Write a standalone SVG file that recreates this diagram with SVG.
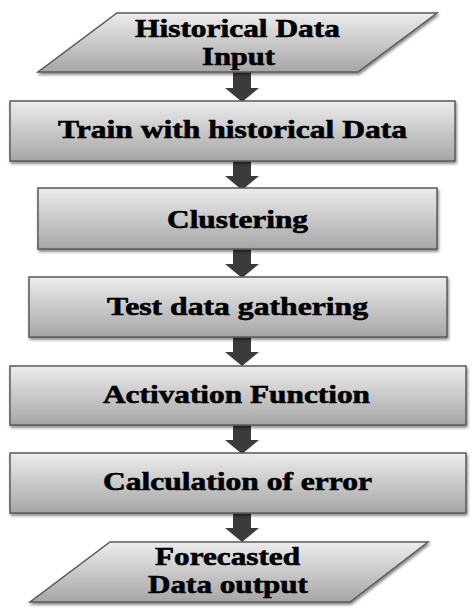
<svg xmlns="http://www.w3.org/2000/svg" width="474" height="612" viewBox="0 0 474 612">
<defs>
<linearGradient id="g" x1="0" y1="0" x2="0" y2="1">
<stop offset="0" stop-color="#ececec"/>
<stop offset="1" stop-color="#a6a6a6"/>
</linearGradient>
<filter id="sh" x="-5%" y="-10%" width="110%" height="130%">
<feGaussianBlur in="SourceAlpha" stdDeviation="1.5"/>
<feOffset dx="1" dy="2" result="b"/>
<feComponentTransfer><feFuncA type="linear" slope="0.5"/></feComponentTransfer>
<feMerge><feMergeNode/><feMergeNode in="SourceGraphic"/></feMerge>
</filter>
<path id="arr" d="M-9 0 H9 V16 H17 L0 30 L-17 16 H-9 Z"/>
</defs>
<style>
.n{fill:url(#g);stroke:#5a5a5a;stroke-width:1.5;filter:url(#sh)}
.t{font-family:"Liberation Serif","Times New Roman",serif;font-weight:bold;font-size:25px;fill:#000;stroke:#000;stroke-width:0.6;text-anchor:middle}
.a{fill:#3b3b3b}
</style>
<g id="connectors">
<use href="#arr" class="a" x="242" y="72"/>
<use href="#arr" class="a" x="242" y="160"/>
<use href="#arr" class="a" x="242" y="248"/>
<use href="#arr" class="a" x="242" y="336"/>
<use href="#arr" class="a" x="242" y="424"/>
<use href="#arr" class="a" x="242" y="512"/>
</g>
<g id="n1">
<polygon class="n" points="117,13 437,13 358,72 38,72"/>
<text class="t" x="237.5" y="37" textLength="205" lengthAdjust="spacingAndGlyphs">Historical Data</text>
<text class="t" x="238.5" y="65" textLength="73" lengthAdjust="spacingAndGlyphs">Input</text>
</g>
<g id="n2">
<rect class="n" x="10" y="101" width="445" height="60"/>
<text class="t" x="232.5" y="138" textLength="349" lengthAdjust="spacingAndGlyphs">Train with historical Data</text>
</g>
<g id="n3">
<rect class="n" x="38" y="188" width="399" height="61"/>
<text class="t" x="237.5" y="228" textLength="141" lengthAdjust="spacingAndGlyphs">Clustering</text>
</g>
<g id="n4">
<rect class="n" x="29" y="277" width="418" height="60"/>
<text class="t" x="237.5" y="315" textLength="261" lengthAdjust="spacingAndGlyphs">Test data gathering</text>
</g>
<g id="n5">
<rect class="n" x="10" y="366" width="456" height="59"/>
<text class="t" x="236.5" y="403" textLength="267" lengthAdjust="spacingAndGlyphs">Activation Function</text>
</g>
<g id="n6">
<rect class="n" x="10" y="453" width="456" height="60"/>
<text class="t" x="237.5" y="490" textLength="269" lengthAdjust="spacingAndGlyphs">Calculation of error</text>
</g>
<g id="n7">
<polygon class="n" points="110,542 428,542 350,602 30,602"/>
<text class="t" x="227.5" y="565" textLength="145" lengthAdjust="spacingAndGlyphs">Forecasted</text>
<text class="t" x="228" y="593" textLength="160" lengthAdjust="spacingAndGlyphs">Data output</text>
</g>
</svg>
